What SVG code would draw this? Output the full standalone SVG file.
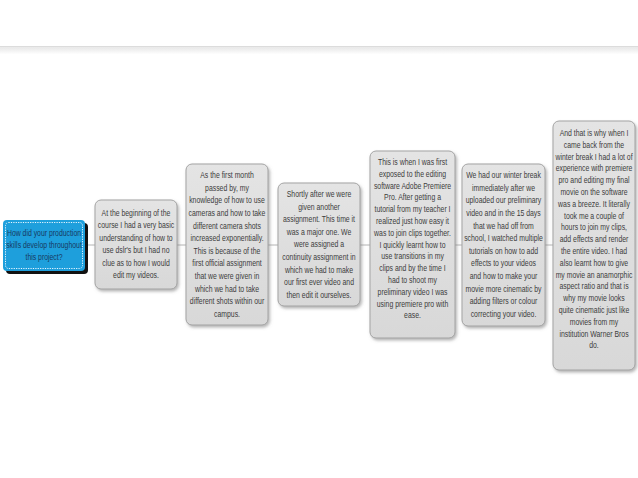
<svg xmlns="http://www.w3.org/2000/svg" width="638" height="478" viewBox="0 0 638 478">
<defs>
<linearGradient id="topfade" x1="0" y1="0" x2="0" y2="1">
<stop offset="0" stop-color="#e8e8e8"/>
<stop offset="1" stop-color="#ffffff"/>
</linearGradient>
<linearGradient id="grey" x1="0" y1="0" x2="0" y2="1">
<stop offset="0" stop-color="#e4e4e4"/>
<stop offset="1" stop-color="#d8d8d8"/>
</linearGradient>
<filter id="sh" x="-10%" y="-10%" width="130%" height="130%">
<feDropShadow dx="1.5" dy="2" stdDeviation="1.5" flood-color="#777" flood-opacity="0.55"/>
</filter>
<style>
.box{fill:url(#grey);stroke:#a3a3a3;stroke-width:1;filter:url(#sh)}
.t{font-family:"Liberation Sans",Arial,sans-serif;font-size:8.5px;fill:#3c3c3c;text-anchor:middle}
.tb{font-family:"Liberation Sans",Arial,sans-serif;font-size:8.5px;fill:#173a63;text-anchor:middle}
.con{stroke:#b4b4b4;stroke-width:1;fill:none}
</style>
</defs>
<rect x="0" y="0" width="638" height="478" fill="#ffffff"/>
<rect x="0" y="46" width="638" height="1.5" fill="#dcdcdc"/>
<rect x="0" y="47.5" width="638" height="7" fill="url(#topfade)"/>

<g id="connectors">
<line class="con" x1="86" y1="245" x2="95" y2="245"/>
<line class="con" x1="177" y1="245" x2="186" y2="245"/>
<line class="con" x1="268" y1="245" x2="278" y2="245"/>
<line class="con" x1="360" y1="245" x2="370" y2="245"/>
<line class="con" x1="455" y1="245" x2="462" y2="245"/>
<line class="con" x1="545" y1="245" x2="553" y2="245"/>
</g>

<g id="n0">
<rect x="6" y="223" width="82" height="51" rx="4" fill="#111"/>
<rect x="3" y="220" width="82" height="51" rx="4" fill="#1e9fdc"/>
<rect x="5.5" y="222.5" width="77" height="46" rx="3" fill="none" stroke="#e8f6ff" stroke-width="1" stroke-dasharray="1.2 1.2"/>
<g transform="translate(44 0) scale(0.81 1)">
<text class="tb"><tspan x="0" y="236">How did your production</tspan><tspan x="0" y="248">skills develop throughout</tspan><tspan x="0" y="260">this project?</tspan></text>
</g>
</g>

<g id="n1">
<rect class="box" x="95" y="200" width="82" height="89" rx="6"/>
<g transform="translate(136 0) scale(0.81 1)">
<text class="t"><tspan x="0" y="216">At the beginning of the</tspan><tspan x="0" y="228.5">course I had a very basic</tspan><tspan x="0" y="241">understanding of how to</tspan><tspan x="0" y="253.5">use dslr's but I had no</tspan><tspan x="0" y="266">clue as to how I would</tspan><tspan x="0" y="278.5">edit my videos.</tspan></text>
</g>
</g>

<g id="n2">
<rect class="box" x="186" y="164" width="82" height="161" rx="6"/>
<g transform="translate(227 0) scale(0.81 1)">
<text class="t"><tspan x="0" y="178.2">As the first month</tspan><tspan x="0" y="190.8">passed by, my</tspan><tspan x="0" y="203.4">knowledge of how to use</tspan><tspan x="0" y="216">cameras and how to take</tspan><tspan x="0" y="228.6">different camera shots</tspan><tspan x="0" y="241.2">increased exponentially.</tspan><tspan x="0" y="253.8">This is because of the</tspan><tspan x="0" y="266.4">first official assignment</tspan><tspan x="0" y="279">that we were given in</tspan><tspan x="0" y="291.6">which we had to take</tspan><tspan x="0" y="304.2">different shots within our</tspan><tspan x="0" y="316.8">campus.</tspan></text>
</g>
</g>

<g id="n3">
<rect class="box" x="278" y="183" width="82" height="123" rx="6"/>
<g transform="translate(319 0) scale(0.81 1)">
<text class="t"><tspan x="0" y="197">Shortly after we were</tspan><tspan x="0" y="209.6">given another</tspan><tspan x="0" y="222.2">assignment. This time it</tspan><tspan x="0" y="234.8">was a major one. We</tspan><tspan x="0" y="247.4">were assigned a</tspan><tspan x="0" y="260">continuity assignment in</tspan><tspan x="0" y="272.6">which we had to make</tspan><tspan x="0" y="285.2">our first ever video and</tspan><tspan x="0" y="297.8">then edit it ourselves.</tspan></text>
</g>
</g>

<g id="n4">
<rect class="box" x="370" y="151" width="85" height="187" rx="6"/>
<g transform="translate(412.5 0) scale(0.81 1)">
<text class="t"><tspan x="0" y="165">This is when I was first</tspan><tspan x="0" y="176.8">exposed to the editing</tspan><tspan x="0" y="188.6">software Adobe Premiere</tspan><tspan x="0" y="200.4">Pro. After getting a</tspan><tspan x="0" y="212.2">tutorial from my teacher I</tspan><tspan x="0" y="224">realized just how easy it</tspan><tspan x="0" y="235.8">was to join clips together.</tspan><tspan x="0" y="247.6">I quickly learnt how to</tspan><tspan x="0" y="259.4">use transitions in my</tspan><tspan x="0" y="271.2">clips and by the time I</tspan><tspan x="0" y="283">had to shoot my</tspan><tspan x="0" y="294.8">preliminary video I was</tspan><tspan x="0" y="306.6">using premiere pro with</tspan><tspan x="0" y="318.4">ease.</tspan></text>
</g>
</g>

<g id="n5">
<rect class="box" x="462" y="164" width="83" height="162" rx="6"/>
<g transform="translate(503.5 0) scale(0.81 1)">
<text class="t"><tspan x="0" y="178.2">We had our winter break</tspan><tspan x="0" y="190.8">immediately after we</tspan><tspan x="0" y="203.4">uploaded our preliminary</tspan><tspan x="0" y="216">video and in the 15 days</tspan><tspan x="0" y="228.6">that we had off from</tspan><tspan x="0" y="241.2">school, I watched multiple</tspan><tspan x="0" y="253.8">tutorials on how to add</tspan><tspan x="0" y="266.4">effects to your videos</tspan><tspan x="0" y="279">and how to make your</tspan><tspan x="0" y="291.6">movie more cinematic by</tspan><tspan x="0" y="304.2">adding filters or colour</tspan><tspan x="0" y="316.8">correcting your video.</tspan></text>
</g>
</g>

<g id="n6">
<rect class="box" x="553" y="121" width="82" height="249" rx="6"/>
<g transform="translate(594 0) scale(0.81 1)">
<text class="t"><tspan x="0" y="136">And that is why when I</tspan><tspan x="0" y="147.8">came back from the</tspan><tspan x="0" y="159.6">winter break I had a lot of</tspan><tspan x="0" y="171.4">experience with premiere</tspan><tspan x="0" y="183.2">pro and editing my final</tspan><tspan x="0" y="195">movie on the software</tspan><tspan x="0" y="206.8">was a breeze. It literally</tspan><tspan x="0" y="218.6">took me a couple of</tspan><tspan x="0" y="230.4">hours to join my clips,</tspan><tspan x="0" y="242.2">add effects and render</tspan><tspan x="0" y="254">the entire video. I had</tspan><tspan x="0" y="265.8">also learnt how to give</tspan><tspan x="0" y="277.6">my movie an anamorphic</tspan><tspan x="0" y="289.4">aspect ratio and that is</tspan><tspan x="0" y="301.2">why my movie looks</tspan><tspan x="0" y="313">quite cinematic just like</tspan><tspan x="0" y="324.8">movies from my</tspan><tspan x="0" y="336.6">institution Warner Bros</tspan><tspan x="0" y="348.4">do.</tspan></text>
</g>
</g>
</svg>
